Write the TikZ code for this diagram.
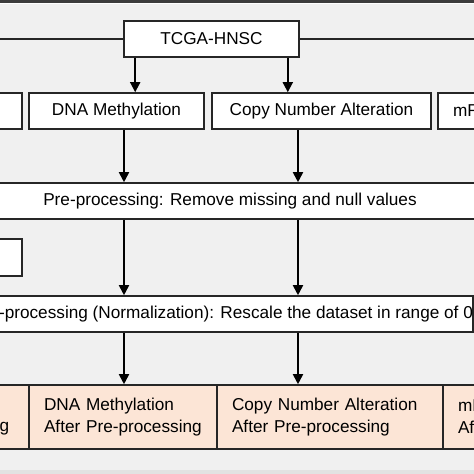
\documentclass[tikz,border=0pt]{standalone}
\usepackage{fontspec}
\setmainfont{Liberation Sans}
\usepackage{tikz}
\usetikzlibrary{calc}
\usetikzlibrary{arrows.meta}
\definecolor{bggray}{HTML}{F0F0F0}
\definecolor{topbar}{HTML}{3C3C3C}
\definecolor{footgray}{HTML}{E2E2E2}
\definecolor{peach}{HTML}{FCE5D6}
\tikzstyle{databox}=[black, draw=black!85, line width=1.6pt, shape=rectangle, fill=white, minimum height=36pt, inner sep=0pt, font=\fontsize{17.2}{22}\selectfont]
\tikzstyle{stepband}=[black, draw=black!85, line width=1.6pt, shape=rectangle, fill=white, minimum height=36pt, inner sep=0pt, font=\fontsize{17.2}{22}\selectfont]
\tikzstyle{resultbox}=[black, draw=black!85, line width=1.6pt, shape=rectangle, fill=peach, minimum height=64pt, inner xsep=15pt, inner ysep=0pt, align=left, font=\fontsize{17.2}{22}\selectfont]
\tikzstyle{flow}=[-{Triangle[length=10pt, width=10pt]}, line width=1.8pt, color=black]

\begin{document}
\begin{tikzpicture}[x=1pt, y=-1pt]
\useasboundingbox (0,0) rectangle (474,474);
\clip (0,0) rectangle (474,474);
\fill[bggray] (0,0) rectangle (474,474);
\fill[topbar] (0,0) rectangle (474,2.5);
\fill[white] (0,2.5) rectangle (474,4);
\fill[footgray] (0,470) rectangle (474,474);

\node [databox, minimum width=175pt] (tcga) at (211.5,39) {TCGA-HNSC};
\node [databox, minimum width=82pt] (omicL) at (-19,111) {};
\node [databox, minimum width=175pt] (dnam) at (116.5,111) {DNA Methylation};
\node [databox, minimum width=219pt] (cna) at (321.5,111) {Copy Number Alteration};
\node [databox, minimum width=122pt, text width=92pt, inner xsep=15pt, align=left] (mrna) at (499,111) {mR};
\node [databox, minimum width=82pt, minimum height=37pt] (sideL) at (-19,257.5) {};

\node [stepband, minimum width=500pt] (clean) at (230,201) {Pre-processing: Remove missing and null values};
\node [stepband, minimum width=470pt] (norm) at (236,314) {-processing (Normalization): Rescale the dataset in range of 0};

\node [resultbox, minimum width=129pt, text width=99pt] (outL) at (-35.5,417) {};
\node [black, inner sep=0pt, anchor=base east, font=\fontsize{17.2}{22}\selectfont] (outLtail) at (9.5,431) {g};
\node [resultbox, minimum width=188pt, text width=158pt] (outdnam) at (123,417) {DNA Methylation\\After Pre-processing};
\node [resultbox, minimum width=226pt, text width=196pt] (outcna) at (330,417) {Copy Number Alteration\\After Pre-processing};
\node [resultbox, minimum width=117pt, text width=87pt] (outmrna) at (501.5,417) {mR\\Af};

\coordinate (colA) at (124,0);
\coordinate (colB) at (298,0);
\coordinate (tcgaA) at ($(tcga.south west)+(12,0)$);
\coordinate (tcgaB) at ($(tcga.south east)-(12,0)$);

\draw[line width=1.6pt, color=black!85] (tcga.west) -- (tcga.west -| 0,0);
\draw[line width=1.6pt, color=black!85] (tcga.east) -- (tcga.east -| 474,0);

\draw[flow] (tcgaA) -- (tcgaA |- dnam.north);
\draw[flow] (tcgaB) -- (tcgaB |- cna.north);
\draw[flow] (colA |- dnam.south) -- (colA |- clean.north);
\draw[flow] (colB |- cna.south) -- (colB |- clean.north);
\draw[flow] (colA |- clean.south) -- (colA |- norm.north);
\draw[flow] (colB |- clean.south) -- (colB |- norm.north);
\draw[flow] (colA |- norm.south) -- (colA |- outdnam.north);
\draw[flow] (colB |- norm.south) -- (colB |- outcna.north);
\end{tikzpicture}
\end{document}
